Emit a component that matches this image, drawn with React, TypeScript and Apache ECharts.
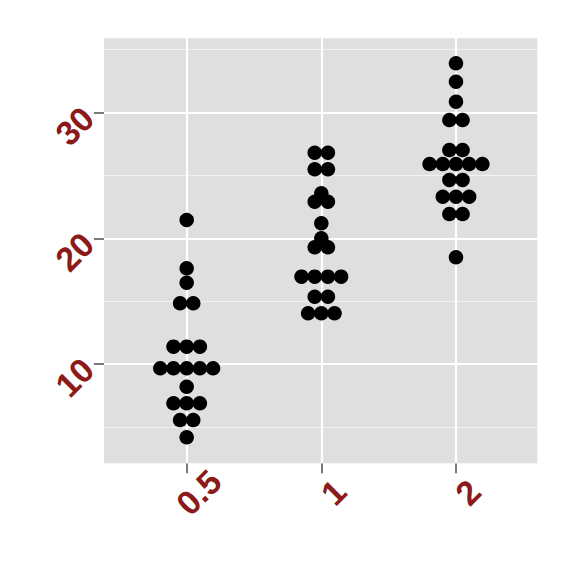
import * as echarts from 'echarts';
import { useEffect, useRef } from 'react';

// dose groups and the binned dot stacks (bin centre, dots in bin)
const doses = ['0.5', '1', '2'];

const halfBinCenters = [21.46, 17.61, 16.47, 14.83, 11.38, 9.66, 8.19, 6.87, 5.54, 4.17];
const halfBinCounts = [1, 1, 1, 2, 3, 5, 1, 3, 2, 1];

const oneBinCenters = [26.81, 25.49, 23.58, 22.91, 21.19, 20.0, 19.28, 16.95, 15.35, 14.03];
const oneBinCounts = [2, 2, 1, 2, 1, 1, 2, 4, 2, 3];

const twoBinCenters = [33.92, 32.46, 30.87, 29.41, 27.02, 25.91, 24.64, 23.31, 21.93, 18.49];
const twoBinCounts = [1, 1, 1, 2, 2, 5, 2, 3, 2, 1];

const yTicks = [10, 20, 30];
const yMinorLines = [5, 15, 25, 35];

const DOT_SIZE = 14.5;
const DOT_STEP = 13.2;
const LABEL_COLOR = '#8B1A1A';
const LABEL_FONT = 'Liberation Sans, Arial, sans-serif';

const App = () => {
    const chartDiv = useRef<HTMLDivElement | null>(null);

    useEffect(() => {
        const chart = echarts.init(chartDiv.current, null, { renderer: 'svg' });

        const groups = [
            { centers: halfBinCenters, counts: halfBinCounts },
            { centers: oneBinCenters, counts: oneBinCounts },
            { centers: twoBinCenters, counts: twoBinCounts }
        ];

        const dots: any[] = [];
        groups.forEach((g, i) => {
            g.centers.forEach((c, j) => {
                const n = g.counts[j];
                for (let k = 0; k < n; k++) {
                    dots.push({
                        value: [i + 1, c],
                        symbolOffset: [(k - (n - 1) / 2) * DOT_STEP, 0]
                    });
                }
            });
        });

        const xPositions = doses.map((_, i) => i + 1);

        chart.setOption({
            animation: false,
            grid: {
                left: 104,
                top: 38.3,
                right: 38.7,
                bottom: 112.7,
                show: true,
                backgroundColor: '#DFDFDF',
                borderWidth: 0
            },
            xAxis: {
                type: 'value',
                min: 0.386,
                max: 3.604,
                axisLine: { show: false },
                splitLine: { show: false },
                axisTick: {
                    show: true,
                    customValues: xPositions,
                    length: 10,
                    lineStyle: { color: '#7A7A7A', width: 2 }
                },
                axisLabel: {
                    customValues: xPositions,
                    formatter: (v: number) => doses[Math.round(v) - 1] ?? '',
                    rotate: 45,
                    align: 'center',
                    verticalAlign: 'top',
                    margin: 17,
                    color: LABEL_COLOR,
                    fontSize: 34,
                    fontWeight: 'bold',
                    fontFamily: LABEL_FONT
                }
            },
            yAxis: {
                type: 'value',
                min: 2.1,
                max: 35.91,
                axisLine: { show: false },
                splitLine: { show: false },
                axisTick: {
                    show: true,
                    customValues: yTicks,
                    length: 10,
                    lineStyle: { color: '#7A7A7A', width: 2 }
                },
                axisLabel: {
                    customValues: yTicks,
                    rotate: 45,
                    align: 'right',
                    verticalAlign: 'middle',
                    margin: 16,
                    color: LABEL_COLOR,
                    fontSize: 34,
                    fontWeight: 'bold',
                    fontFamily: LABEL_FONT
                }
            },
            series: [
                {
                    type: 'scatter',
                    data: [],
                    silent: true,
                    markLine: {
                        silent: true,
                        symbol: ['none', 'none'],
                        label: { show: false },
                        animation: false,
                        lineStyle: { color: '#F2F2F2', width: 1.2, type: 'solid' },
                        data: yMinorLines.map(v => ({ yAxis: v }))
                    }
                },
                {
                    type: 'scatter',
                    data: [],
                    silent: true,
                    markLine: {
                        silent: true,
                        symbol: ['none', 'none'],
                        label: { show: false },
                        animation: false,
                        lineStyle: { color: '#FFFFFF', width: 2.2, type: 'solid' },
                        data: [
                            ...yTicks.map(v => ({ yAxis: v })),
                            ...xPositions.map(v => ({ xAxis: v }))
                        ]
                    }
                },
                {
                    type: 'scatter',
                    data: dots,
                    symbol: 'circle',
                    symbolSize: DOT_SIZE,
                    itemStyle: { color: '#000000', opacity: 1 },
                    z: 5
                }
            ]
        });

        return () => {
            chart.dispose();
        };
    }, []);

    return (
        <div
            ref={chartDiv}
            style={{ position: 'fixed', left: 0, top: 0, width: '576px', height: '576px', background: '#fff' }}
        />
    );
};

export default App;
